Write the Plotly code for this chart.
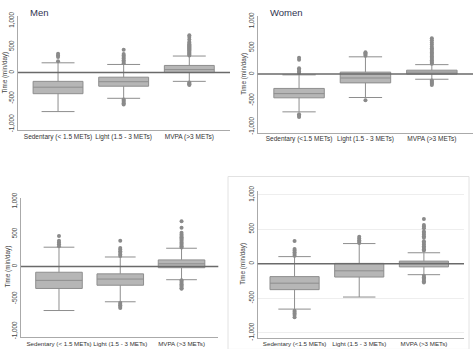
import plotly.graph_objects as go

W, H = 474, 349

# ---------------- data ----------------
labels_a = ["Sedentary (< 1.5 METs)", "Light (1.5 - 3 METs)", "MVPA (>3 METs)"]
labels_b = ["Sedentary (<1.5 METs)", "Light (1.5 - 3 METs)", "MVPA (>3 METs)"]
ytick_vals = [-1000, -500, 0, 500, 1000]
ytick_text = ["-1,000", "-500", "0", "500", "1,000"]

# Panel 1: Men (top-left)
men_q1 = [-409, -264, 0]
men_med = [-283, -177, 57]
men_q3 = [-170, -89, 138]
men_lo = [-755, -498, -170]
men_hi = [189, 157, 320]
men_out_sed = [220, 300, 330, 365]
men_out_light = [180, 210, 240, 270, 300, 330, 360, 440, -520, -545, -570, -595, -617]
men_out_mvpa = [330, 350, 370, 390, 410, 430, 450, 470, 490, 510, 530, 550, 570, 590,
                640, 690, 723, -190, -210, -225, -240]

# Panel 2: Women (top-right)
wom_q1 = [-450, -167, 0]
wom_med = [-370, -74, 37]
wom_q3 = [-272, 37, 74]
wom_lo = [-716, -444, -98]
wom_hi = [-15, 327, 179]
wom_out_sed = [20, 50, 80, 110, 270, 310, -760, -790, -815]
wom_out_light = [345, 370, 395, 415, -494]
wom_out_mvpa = [195, 215, 235, 260, 285, 310, 335, 360, 385, 410, 435, 460, 490, 520,
                560, 600, 640, 680, -124, -145, -165, -185, -205]

# Panel 3: bottom-left
p3_q1 = [-340, -290, -20]
p3_med = [-215, -195, 40]
p3_q3 = [-90, -115, 100]
p3_lo = [-680, -545, -205]
p3_hi = [296, 145, 280]
p3_out_sed = [310, 340, 370, 395, 470]
p3_out_light = [160, 185, 210, 235, 260, 285, 395, -560, -580, -600, -620, -640]
p3_out_mvpa = [290, 310, 330, 350, 370, 390, 410, 430, 450, 470, 490, 520, 595, 695,
               -215, -235, -255, -275, -295, -315, -335, -345]

# Panel 4: bottom-right
p4_q1 = [-376, -193, -46]
p4_med = [-282, -103, 10]
p4_q3 = [-187, 5, 38]
p4_lo = [-658, -483, -159]
p4_hi = [103, 292, 159]
p4_out_sed = [117, 140, 165, 190, 215, 330, -680, -700, -720, -745, -775]
p4_out_light = [300, 320, 340, 365, 390]
p4_out_mvpa = [190, 210, 230, 255, 280, 305, 325, 375, 400, 425, 450, 467, 515, 540,
               563, 648, -173, -195, -215, -235, -255, -272]

panels = [
    dict(q1=men_q1, med=men_med, q3=men_q3, lo=men_lo, hi=men_hi,
         outs=[men_out_sed, men_out_light, men_out_mvpa], labels=labels_a,
         xpx=(18, 230), ypx=(10.0, 127.2), yr=(-1110, 1100), xr=(0.39, 3.62), title="Men",
         ttl=5, fs=6.5),
    dict(q1=wom_q1, med=wom_med, q3=wom_q3, lo=wom_lo, hi=wom_hi,
         outs=[wom_out_sed, wom_out_light, wom_out_mvpa], labels=labels_b,
         xpx=(257.7, 473), ypx=(10.3, 130), yr=(-1110, 1100), xr=(0.377, 3.62), title="Women",
         ttl=243.7, fs=6.5),
    dict(q1=p3_q1, med=p3_med, q3=p3_q3, lo=p3_lo, hi=p3_hi,
         outs=[p3_out_sed, p3_out_light, p3_out_mvpa], labels=labels_a,
         xpx=(21, 218.3), ypx=(196.7, 339.9), yr=(-1090, 1060), xr=(0.38, 3.6), title=None,
         ttl=8, fs=6.2),
    dict(q1=p4_q1, med=p4_med, q3=p4_q3, lo=p4_lo, hi=p4_hi,
         outs=[p4_out_sed, p4_out_light, p4_out_mvpa], labels=labels_b,
         xpx=(257.7, 464), ypx=(190.2, 340.3), yr=(-1070, 1050), xr=(0.43, 3.62), title=None,
         ttl=243, fs=6.2),
]

fig = go.Figure()
layout = dict(width=W, height=H, margin=dict(l=0, r=0, t=0, b=0),
              paper_bgcolor="white", plot_bgcolor="white", showlegend=False,
              font=dict(family="Liberation Sans, Arial, sans-serif", color="#444"))
shapes = []
annotations = []

for i, p in enumerate(panels):
    n = "" if i == 0 else str(i + 1)
    xa, ya = "x" + n, "y" + n
    fig.add_trace(go.Box(
        x=[1, 2, 3], q1=p["q1"], median=p["med"], q3=p["q3"],
        lowerfence=p["lo"], upperfence=p["hi"], width=0.76, whiskerwidth=0.66,
        fillcolor="#b6b6b6", line=dict(color="#8e8e8e", width=1),
        boxpoints=False, xaxis=xa, yaxis=ya, hoverinfo="skip"))
    for k, outs in enumerate(p["outs"]):
        fig.add_trace(go.Scatter(
            x=[k + 1] * len(outs), y=outs, mode="markers",
            marker=dict(size=4, color="#8a8a8a"), xaxis=xa, yaxis=ya, hoverinfo="skip"))
    xd = [p["xpx"][0] / W, p["xpx"][1] / W]
    yd = [1 - p["ypx"][1] / H, 1 - p["ypx"][0] / H]
    layout["xaxis" + n] = dict(domain=xd, range=list(p["xr"]), anchor=ya,
                               tickvals=[1, 2, 3], ticktext=p["labels"], tickangle=0,
                               showline=True, linecolor="#aaaaaa", linewidth=1,
                               ticks="", showgrid=False, zeroline=False,
                               tickfont=dict(size=p["fs"], color="#333"))
    layout["yaxis" + n] = dict(domain=yd, range=list(p["yr"]), anchor=xa,
                               tickvals=ytick_vals, ticktext=ytick_text, tickangle=-90,
                               showline=True, linecolor="#aaaaaa", linewidth=1,
                               ticks="", ticklabelstandoff=0,
                               showgrid=(i == 3), gridcolor="#eeeeee", zeroline=False,
                               tickfont=dict(size=6.3, color="#444"))
    shapes.append(dict(type="line", xref=xa + " domain", yref=ya, x0=0, x1=1, y0=0, y1=0,
                       line=dict(color="#6a6a6a", width=1.5), layer="above"))
    # y-axis title
    y0px = p["ypx"][0] + (p["ypx"][1] - p["ypx"][0]) * (p["yr"][1] - 0) / (p["yr"][1] - p["yr"][0])
    annotations.append(dict(text="Time (min/day)", xref="paper", yref="paper",
                            x=p["ttl"] / W, y=1 - y0px / H, textangle=-90,
                            showarrow=False, font=dict(size=6.3, color="#444"),
                            xanchor="center", yanchor="middle"))
    if p["title"]:
        annotations.append(dict(text=p["title"], xref="paper", yref="paper",
                                x=(p["xpx"][0] + 10) / W, y=1 - 6.5 / H, showarrow=False,
                                font=dict(size=9.5, color="#2f3350"),
                                xanchor="left", yanchor="middle"))

# frame of the bottom-right image
shapes.append(dict(type="rect", xref="paper", yref="paper",
                   x0=228 / W, x1=469 / W, y0=-0.01, y1=1 - 175 / H,
                   line=dict(color="#e2e2e2", width=1), layer="below"))

layout["shapes"] = shapes
layout["annotations"] = annotations
fig.update_layout(**layout)
fig.write_html("out.html")
